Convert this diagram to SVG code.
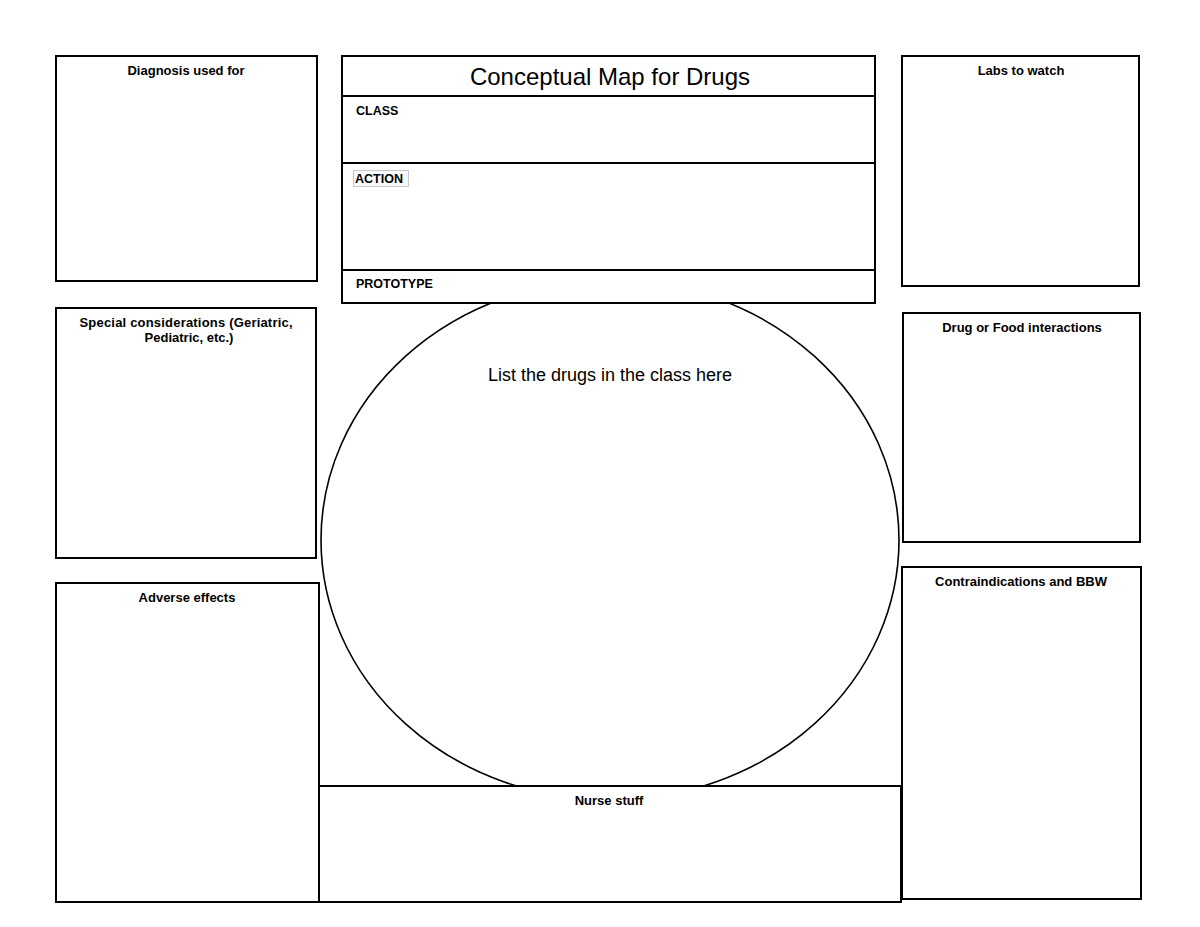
<svg xmlns="http://www.w3.org/2000/svg" width="1200" height="927" viewBox="0 0 1200 927">
<style>
.box{fill:#fff;stroke:#000;stroke-width:2}
.div{stroke:#000;stroke-width:2}
.lbl{font-family:"Liberation Sans",Arial,sans-serif;font-size:13px;font-weight:bold;fill:#000;text-anchor:middle}
.lbll{font-family:"Liberation Sans",Arial,sans-serif;font-size:12.5px;font-weight:bold;fill:#000}
.title{font-family:"Liberation Sans",Arial,sans-serif;font-size:24px;fill:#000;text-anchor:middle}
.body{font-family:"Liberation Sans",Arial,sans-serif;font-size:18px;fill:#000;text-anchor:middle}
</style>
<rect width="1200" height="927" fill="#fff"/>
<g id="drug-circle">
<ellipse cx="610" cy="540" rx="289" ry="260" fill="#fff" stroke="#000" stroke-width="1.6"/>
<text class="body" x="610" y="381">List the drugs in the class here</text>
</g>
<g id="diagnosis">
<rect class="box" x="56" y="56" width="261" height="225"/>
<text class="lbl" x="186" y="75">Diagnosis used for</text>
</g>
<g id="title-panel">
<rect class="box" x="342" y="56" width="533" height="247"/>
<line class="div" x1="342" y1="96" x2="875" y2="96"/>
<line class="div" x1="342" y1="163" x2="875" y2="163"/>
<line class="div" x1="342" y1="270" x2="875" y2="270"/>
<text class="title" x="610" y="85">Conceptual Map for Drugs</text>
<text class="lbll" x="356" y="115">CLASS</text>
<rect x="353.5" y="170.5" width="55" height="16" fill="#fafafa" stroke="#c8c8c8" stroke-width="1"/>
<text class="lbll" x="355" y="183">ACTION</text>
<text class="lbll" x="356" y="288">PROTOTYPE</text>
</g>
<g id="labs">
<rect class="box" x="902" y="56" width="237" height="230"/>
<text class="lbl" x="1021" y="75">Labs to watch</text>
</g>
<g id="special">
<rect class="box" x="56" y="308" width="260" height="250"/>
<text class="lbl" x="186" y="327" textLength="213" lengthAdjust="spacing">Special considerations (Geriatric,</text>
<text class="lbl" x="189" y="342">Pediatric, etc.)</text>
</g>
<g id="interactions">
<rect class="box" x="903" y="313" width="237" height="229"/>
<text class="lbl" x="1022" y="332">Drug or Food interactions</text>
</g>
<g id="adverse">
<rect class="box" x="56" y="583" width="263" height="319"/>
<text class="lbl" x="187" y="602">Adverse effects</text>
</g>
<g id="contraindications">
<rect class="box" x="902" y="567" width="239" height="332"/>
<text class="lbl" x="1021" y="586">Contraindications and BBW</text>
</g>
<g id="nurse">
<rect class="box" x="319" y="786" width="582" height="116"/>
<text class="lbl" x="609" y="805">Nurse stuff</text>
</g>
</svg>
